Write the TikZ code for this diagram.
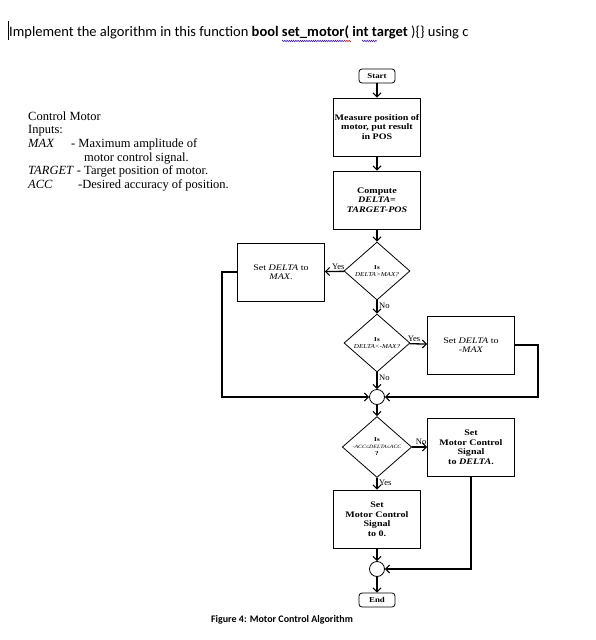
\documentclass[tikz,border=0pt]{standalone}
\usepackage{fontspec}
\setmainfont{Liberation Serif}
\newfontfamily\calibri{Carlito}
\newfontfamily\boxfont[FakeStretch=1.18]{Liberation Serif}
\usetikzlibrary{shapes.geometric,arrows.meta,decorations.pathmorphing}

\begin{document}
\begin{tikzpicture}[x=1pt, y=-1pt,
    every node/.style={inner sep=0pt},
    box/.style={draw, line width=0.8pt, minimum width=87, minimum height=58, align=center, font=\boxfont\fontsize{8.5}{9.5}\selectfont},
    boldbox/.style={box, font=\boxfont\bfseries\fontsize{8.5}{9.5}\selectfont},
    term/.style={draw, line width=0.8pt, rounded corners=3pt, minimum width=36, minimum height=14, font=\boxfont\bfseries\fontsize{7.5}{8}\selectfont},
    test/.style={draw, line width=0.8pt, diamond, aspect=1.14, minimum width=66, minimum height=58, align=center, font=\boxfont\fontsize{6}{7}\selectfont},
    junc/.style={draw, line width=0.8pt, circle, minimum size=15},
    flow/.style={line width=1.3pt, -{Straight Barb[length=4pt, width=8pt, line width=1.1pt]}},
    lbl/.style={font=\fontsize{8.5}{9}\selectfont, inner sep=1.5pt},
    squig/.style={decorate, decoration={snake, amplitude=0.7pt, segment length=2.2pt}, line width=0.5pt}
]
    \useasboundingbox (0,0) rectangle (596,640);

    % Header line
    \draw[line width=0.8pt] (8,21) -- (8,40);
    \node[anchor=base west, font=\calibri\fontsize{14.5}{16}\selectfont] (head) at (9,36)
        {Implement the algorithm in this function \textbf{bool set\_motor( int target} )\{\} using c};
    \draw[squig, blue!60!violet] (282,41) -- (344,41);
    \draw[squig, red!80!black] (344,41) -- (351,41);
    \draw[squig, blue!60!violet] (362,41) -- (377,41);

    % Inputs text block
    \begin{scope}[every node/.style={anchor=base west, font=\fontsize{12.5}{13}\selectfont, inner sep=0pt}]
        \node (title) at (28,120) {Control Motor};
        \node (inputs) at (28,133.7) {Inputs:};
        \node (maxname) at (28,147.4) {\textit{MAX}};
        \node (maxtxt) at (71,147.4) {- Maximum amplitude of};
        \node (maxtxt2) at (84,161.1) {motor control signal.};
        \node (tgt) at (28,174.8) {\textit{TARGET} - Target position of motor.};
        \node (accname) at (28,188.5) {\textit{ACC}};
        \node (acctxt) at (78,188.5) {-Desired accuracy of position.};
    \end{scope}

    % Main column
    \node[term] (start) at (377,76) {Start};
    \node[boldbox] (measure) at (377,127) {Measure position of\\motor, put result\\in POS};
    \node[boldbox] (compute) at (377,200) {Compute\\\textit{DELTA}=\\\textit{TARGET-POS}};
    \node[test] (isbig) at (377,271) {\textbf{Is}\\\textit{DELTA>MAX?}};
    \node[test] (isneg) at (377,343) {\textbf{Is}\\\textit{DELTA<-MAX?}};
    \node[junc] (join1) at (377,397) {};
    \node[test] (isacc) at (377,447) {\textbf{Is}\\{\fontsize{5}{6}\selectfont\textit{-ACC≤DELTA≤ACC}}\\\textbf{?}};
    \node[boldbox] (setzero) at (377,519) {Set\\Motor Control\\Signal\\to 0.};
    \node[junc] (join2) at (377,569) {};
    \node[term] (stop) at (377,600) {End};

    % Side boxes
    \node[box] (setmax) at (281,272) {Set \textit{DELTA} to\\\textit{MAX}.};
    \node[box] (setneg) at (471,345) {Set \textit{DELTA} to\\-\textit{MAX}};
    \node[boldbox] (setsig) at (471,447) {Set\\Motor Control\\Signal\\to \textit{DELTA}.};

    % Connectors
    \draw[flow] (start) -- (measure);
    \draw[flow] (measure) -- (compute);
    \draw[flow] (compute) -- (isbig);
    \draw[flow] (isbig) -- node[lbl, above, pos=0.3] {Yes} (setmax);
    \draw[flow] (isbig) -- node[lbl, right, pos=0.4] {No} (isneg);
    \draw[flow] (isneg) -- node[lbl, above, pos=0.25] {Yes} (setneg);
    \draw[flow] (isneg) -- node[lbl, right, pos=0.35] {No} (join1);
    \draw[flow] (setmax.west) -- ++(-15,0) |- (join1);
    \draw[flow] (setneg.east) -- ++(23,0) |- (join1);
    \draw[flow] (join1) -- (isacc);
    \draw[flow] (isacc) -- node[lbl, above, pos=0.6] {No} (setsig);
    \draw[flow] (isacc) -- node[lbl, right, pos=0.45] {Yes} (setzero);
    \draw[flow] (setzero) -- (join2);
    \draw[flow] (setsig) |- (join2);
    \draw[flow] (join2) -- (stop);

    % Caption
    \node[font=\calibri\bfseries\fontsize{10}{12}\selectfont] (caption) at (282,620) {Figure 4: Motor Control Algorithm};
\end{tikzpicture}
\end{document}
